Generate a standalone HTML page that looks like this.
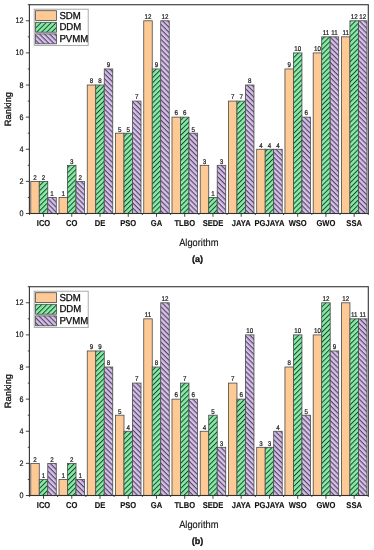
<!DOCTYPE html>
<html><head><meta charset="utf-8"><title>Ranking chart</title>
<style>
html,body{margin:0;padding:0;background:#fff;}
body{width:374px;height:550px;overflow:hidden;}
svg{display:block;will-change:transform;}
text{font-family:"Liberation Sans",sans-serif;text-rendering:geometricPrecision;fill:#111;stroke:#111;stroke-width:0.32px;}
.v{font-size:6.2px;text-anchor:middle;fill:#1a1a1a;stroke:#1a1a1a;stroke-width:0.2px;}
.yt{font-size:7.2px;text-anchor:end;stroke-width:0.15px;}
.xl{font-size:7.6px;font-weight:bold;text-anchor:middle;stroke-width:0.12px;}
.tt{font-size:9.3px;text-anchor:middle;stroke-width:0.12px;}
.sub{font-size:9.0px;font-weight:bold;text-anchor:middle;}
.rk{font-size:9.1px;text-anchor:middle;}
.lg{font-size:9.6px;}
.tk{stroke:#333333;stroke-width:0.9;}
</style></head>
<body><svg width="374" height="550" viewBox="0 0 374 550">
<defs>
<pattern id="hd" patternUnits="userSpaceOnUse" width="3.5674" height="3.5674" patternTransform="rotate(45)">
<line x1="2.3193" y1="0" x2="2.3193" y2="3.5674" stroke="#000000" stroke-width="0.72"/><line x1="-1.2480" y1="0" x2="-1.2480" y2="3.5674" stroke="#000000" stroke-width="0.72"/><line x1="5.8867" y1="0" x2="5.8867" y2="3.5674" stroke="#000000" stroke-width="0.72"/></pattern>
<pattern id="hp" patternUnits="userSpaceOnUse" width="3.5674" height="3.5674" patternTransform="rotate(-45)">
<line x1="0.2475" y1="0" x2="0.2475" y2="3.5674" stroke="#000000" stroke-width="0.72"/><line x1="-3.3199" y1="0" x2="-3.3199" y2="3.5674" stroke="#000000" stroke-width="0.72"/><line x1="3.8148" y1="0" x2="3.8148" y2="3.5674" stroke="#000000" stroke-width="0.72"/></pattern>
</defs>
<rect x="30.77" y="181.38" width="8.5" height="32.12" fill="#fdc995"/>
<rect x="30.77" y="181.38" width="8.5" height="32.12" fill="none" stroke="#4a4a4a" stroke-width="0.8"/>
<text class="v" transform="translate(35.02 179.68) scale(1 1.12)">2</text>
<rect x="39.27" y="181.38" width="8.5" height="32.12" fill="#84eca6"/>
<rect x="39.27" y="181.38" width="8.5" height="32.12" fill="url(#hd)"/>
<rect x="39.27" y="181.38" width="8.5" height="32.12" fill="none" stroke="#4a4a4a" stroke-width="0.8"/>
<text class="v" transform="translate(43.52 179.68) scale(1 1.12)">2</text>
<rect x="47.77" y="197.44" width="8.5" height="16.06" fill="#d8c0ee"/>
<rect x="47.77" y="197.44" width="8.5" height="16.06" fill="url(#hp)"/>
<rect x="47.77" y="197.44" width="8.5" height="16.06" fill="none" stroke="#4a4a4a" stroke-width="0.8"/>
<text class="v" transform="translate(52.02 195.74) scale(1 1.12)">1</text>
<rect x="59.01" y="197.44" width="8.5" height="16.06" fill="#fdc995"/>
<rect x="59.01" y="197.44" width="8.5" height="16.06" fill="none" stroke="#4a4a4a" stroke-width="0.8"/>
<text class="v" transform="translate(63.26 195.74) scale(1 1.12)">1</text>
<rect x="67.51" y="165.32" width="8.5" height="48.18" fill="#84eca6"/>
<rect x="67.51" y="165.32" width="8.5" height="48.18" fill="url(#hd)"/>
<rect x="67.51" y="165.32" width="8.5" height="48.18" fill="none" stroke="#4a4a4a" stroke-width="0.8"/>
<text class="v" transform="translate(71.76 163.62) scale(1 1.12)">3</text>
<rect x="76.01" y="181.38" width="8.5" height="32.12" fill="#d8c0ee"/>
<rect x="76.01" y="181.38" width="8.5" height="32.12" fill="url(#hp)"/>
<rect x="76.01" y="181.38" width="8.5" height="32.12" fill="none" stroke="#4a4a4a" stroke-width="0.8"/>
<text class="v" transform="translate(80.26 179.68) scale(1 1.12)">2</text>
<rect x="87.25" y="85.02" width="8.5" height="128.48" fill="#fdc995"/>
<rect x="87.25" y="85.02" width="8.5" height="128.48" fill="none" stroke="#4a4a4a" stroke-width="0.8"/>
<text class="v" transform="translate(91.5 83.32) scale(1 1.12)">8</text>
<rect x="95.75" y="85.02" width="8.5" height="128.48" fill="#84eca6"/>
<rect x="95.75" y="85.02" width="8.5" height="128.48" fill="url(#hd)"/>
<rect x="95.75" y="85.02" width="8.5" height="128.48" fill="none" stroke="#4a4a4a" stroke-width="0.8"/>
<text class="v" transform="translate(100 83.32) scale(1 1.12)">8</text>
<rect x="104.25" y="68.96" width="8.5" height="144.54" fill="#d8c0ee"/>
<rect x="104.25" y="68.96" width="8.5" height="144.54" fill="url(#hp)"/>
<rect x="104.25" y="68.96" width="8.5" height="144.54" fill="none" stroke="#4a4a4a" stroke-width="0.8"/>
<text class="v" transform="translate(108.5 67.26) scale(1 1.12)">9</text>
<rect x="115.5" y="133.2" width="8.5" height="80.3" fill="#fdc995"/>
<rect x="115.5" y="133.2" width="8.5" height="80.3" fill="none" stroke="#4a4a4a" stroke-width="0.8"/>
<text class="v" transform="translate(119.75 131.5) scale(1 1.12)">5</text>
<rect x="124" y="133.2" width="8.5" height="80.3" fill="#84eca6"/>
<rect x="124" y="133.2" width="8.5" height="80.3" fill="url(#hd)"/>
<rect x="124" y="133.2" width="8.5" height="80.3" fill="none" stroke="#4a4a4a" stroke-width="0.8"/>
<text class="v" transform="translate(128.25 131.5) scale(1 1.12)">5</text>
<rect x="132.5" y="101.08" width="8.5" height="112.42" fill="#d8c0ee"/>
<rect x="132.5" y="101.08" width="8.5" height="112.42" fill="url(#hp)"/>
<rect x="132.5" y="101.08" width="8.5" height="112.42" fill="none" stroke="#4a4a4a" stroke-width="0.8"/>
<text class="v" transform="translate(136.75 99.38) scale(1 1.12)">7</text>
<rect x="143.74" y="20.78" width="8.5" height="192.72" fill="#fdc995"/>
<rect x="143.74" y="20.78" width="8.5" height="192.72" fill="none" stroke="#4a4a4a" stroke-width="0.8"/>
<text class="v" transform="translate(147.99 19.08) scale(1 1.12)">12</text>
<rect x="152.24" y="68.96" width="8.5" height="144.54" fill="#84eca6"/>
<rect x="152.24" y="68.96" width="8.5" height="144.54" fill="url(#hd)"/>
<rect x="152.24" y="68.96" width="8.5" height="144.54" fill="none" stroke="#4a4a4a" stroke-width="0.8"/>
<text class="v" transform="translate(156.49 67.26) scale(1 1.12)">9</text>
<rect x="160.74" y="20.78" width="8.5" height="192.72" fill="#d8c0ee"/>
<rect x="160.74" y="20.78" width="8.5" height="192.72" fill="url(#hp)"/>
<rect x="160.74" y="20.78" width="8.5" height="192.72" fill="none" stroke="#4a4a4a" stroke-width="0.8"/>
<text class="v" transform="translate(164.99 19.08) scale(1 1.12)">12</text>
<rect x="171.98" y="117.14" width="8.5" height="96.36" fill="#fdc995"/>
<rect x="171.98" y="117.14" width="8.5" height="96.36" fill="none" stroke="#4a4a4a" stroke-width="0.8"/>
<text class="v" transform="translate(176.23 115.44) scale(1 1.12)">6</text>
<rect x="180.48" y="117.14" width="8.5" height="96.36" fill="#84eca6"/>
<rect x="180.48" y="117.14" width="8.5" height="96.36" fill="url(#hd)"/>
<rect x="180.48" y="117.14" width="8.5" height="96.36" fill="none" stroke="#4a4a4a" stroke-width="0.8"/>
<text class="v" transform="translate(184.73 115.44) scale(1 1.12)">6</text>
<rect x="188.98" y="133.2" width="8.5" height="80.3" fill="#d8c0ee"/>
<rect x="188.98" y="133.2" width="8.5" height="80.3" fill="url(#hp)"/>
<rect x="188.98" y="133.2" width="8.5" height="80.3" fill="none" stroke="#4a4a4a" stroke-width="0.8"/>
<text class="v" transform="translate(193.23 131.5) scale(1 1.12)">5</text>
<rect x="200.22" y="165.32" width="8.5" height="48.18" fill="#fdc995"/>
<rect x="200.22" y="165.32" width="8.5" height="48.18" fill="none" stroke="#4a4a4a" stroke-width="0.8"/>
<text class="v" transform="translate(204.47 163.62) scale(1 1.12)">3</text>
<rect x="208.72" y="197.44" width="8.5" height="16.06" fill="#84eca6"/>
<rect x="208.72" y="197.44" width="8.5" height="16.06" fill="url(#hd)"/>
<rect x="208.72" y="197.44" width="8.5" height="16.06" fill="none" stroke="#4a4a4a" stroke-width="0.8"/>
<text class="v" transform="translate(212.97 195.74) scale(1 1.12)">1</text>
<rect x="217.22" y="165.32" width="8.5" height="48.18" fill="#d8c0ee"/>
<rect x="217.22" y="165.32" width="8.5" height="48.18" fill="url(#hp)"/>
<rect x="217.22" y="165.32" width="8.5" height="48.18" fill="none" stroke="#4a4a4a" stroke-width="0.8"/>
<text class="v" transform="translate(221.47 163.62) scale(1 1.12)">3</text>
<rect x="228.46" y="101.08" width="8.5" height="112.42" fill="#fdc995"/>
<rect x="228.46" y="101.08" width="8.5" height="112.42" fill="none" stroke="#4a4a4a" stroke-width="0.8"/>
<text class="v" transform="translate(232.71 99.38) scale(1 1.12)">7</text>
<rect x="236.96" y="101.08" width="8.5" height="112.42" fill="#84eca6"/>
<rect x="236.96" y="101.08" width="8.5" height="112.42" fill="url(#hd)"/>
<rect x="236.96" y="101.08" width="8.5" height="112.42" fill="none" stroke="#4a4a4a" stroke-width="0.8"/>
<text class="v" transform="translate(241.21 99.38) scale(1 1.12)">7</text>
<rect x="245.46" y="85.02" width="8.5" height="128.48" fill="#d8c0ee"/>
<rect x="245.46" y="85.02" width="8.5" height="128.48" fill="url(#hp)"/>
<rect x="245.46" y="85.02" width="8.5" height="128.48" fill="none" stroke="#4a4a4a" stroke-width="0.8"/>
<text class="v" transform="translate(249.71 83.32) scale(1 1.12)">8</text>
<rect x="256.7" y="149.26" width="8.5" height="64.24" fill="#fdc995"/>
<rect x="256.7" y="149.26" width="8.5" height="64.24" fill="none" stroke="#4a4a4a" stroke-width="0.8"/>
<text class="v" transform="translate(260.95 147.56) scale(1 1.12)">4</text>
<rect x="265.2" y="149.26" width="8.5" height="64.24" fill="#84eca6"/>
<rect x="265.2" y="149.26" width="8.5" height="64.24" fill="url(#hd)"/>
<rect x="265.2" y="149.26" width="8.5" height="64.24" fill="none" stroke="#4a4a4a" stroke-width="0.8"/>
<text class="v" transform="translate(269.45 147.56) scale(1 1.12)">4</text>
<rect x="273.7" y="149.26" width="8.5" height="64.24" fill="#d8c0ee"/>
<rect x="273.7" y="149.26" width="8.5" height="64.24" fill="url(#hp)"/>
<rect x="273.7" y="149.26" width="8.5" height="64.24" fill="none" stroke="#4a4a4a" stroke-width="0.8"/>
<text class="v" transform="translate(277.95 147.56) scale(1 1.12)">4</text>
<rect x="284.95" y="68.96" width="8.5" height="144.54" fill="#fdc995"/>
<rect x="284.95" y="68.96" width="8.5" height="144.54" fill="none" stroke="#4a4a4a" stroke-width="0.8"/>
<text class="v" transform="translate(289.2 67.26) scale(1 1.12)">9</text>
<rect x="293.45" y="52.9" width="8.5" height="160.6" fill="#84eca6"/>
<rect x="293.45" y="52.9" width="8.5" height="160.6" fill="url(#hd)"/>
<rect x="293.45" y="52.9" width="8.5" height="160.6" fill="none" stroke="#4a4a4a" stroke-width="0.8"/>
<text class="v" transform="translate(297.7 51.2) scale(1 1.12)">10</text>
<rect x="301.95" y="117.14" width="8.5" height="96.36" fill="#d8c0ee"/>
<rect x="301.95" y="117.14" width="8.5" height="96.36" fill="url(#hp)"/>
<rect x="301.95" y="117.14" width="8.5" height="96.36" fill="none" stroke="#4a4a4a" stroke-width="0.8"/>
<text class="v" transform="translate(306.2 115.44) scale(1 1.12)">6</text>
<rect x="313.19" y="52.9" width="8.5" height="160.6" fill="#fdc995"/>
<rect x="313.19" y="52.9" width="8.5" height="160.6" fill="none" stroke="#4a4a4a" stroke-width="0.8"/>
<text class="v" transform="translate(317.44 51.2) scale(1 1.12)">10</text>
<rect x="321.69" y="36.84" width="8.5" height="176.66" fill="#84eca6"/>
<rect x="321.69" y="36.84" width="8.5" height="176.66" fill="url(#hd)"/>
<rect x="321.69" y="36.84" width="8.5" height="176.66" fill="none" stroke="#4a4a4a" stroke-width="0.8"/>
<text class="v" transform="translate(325.94 35.14) scale(1 1.12)">11</text>
<rect x="330.19" y="36.84" width="8.5" height="176.66" fill="#d8c0ee"/>
<rect x="330.19" y="36.84" width="8.5" height="176.66" fill="url(#hp)"/>
<rect x="330.19" y="36.84" width="8.5" height="176.66" fill="none" stroke="#4a4a4a" stroke-width="0.8"/>
<text class="v" transform="translate(334.44 35.14) scale(1 1.12)">11</text>
<rect x="341.43" y="36.84" width="8.5" height="176.66" fill="#fdc995"/>
<rect x="341.43" y="36.84" width="8.5" height="176.66" fill="none" stroke="#4a4a4a" stroke-width="0.8"/>
<text class="v" transform="translate(345.68 35.14) scale(1 1.12)">11</text>
<rect x="349.93" y="20.78" width="8.5" height="192.72" fill="#84eca6"/>
<rect x="349.93" y="20.78" width="8.5" height="192.72" fill="url(#hd)"/>
<rect x="349.93" y="20.78" width="8.5" height="192.72" fill="none" stroke="#4a4a4a" stroke-width="0.8"/>
<text class="v" transform="translate(354.18 19.08) scale(1 1.12)">12</text>
<rect x="358.43" y="20.78" width="8.5" height="192.72" fill="#d8c0ee"/>
<rect x="358.43" y="20.78" width="8.5" height="192.72" fill="url(#hp)"/>
<rect x="358.43" y="20.78" width="8.5" height="192.72" fill="none" stroke="#4a4a4a" stroke-width="0.8"/>
<text class="v" transform="translate(362.68 19.08) scale(1 1.12)">12</text>
<rect x="29.4" y="4.72" width="338.9" height="208.78" fill="none" stroke="#333333" stroke-width="1.1"/>
<line x1="25.9" x2="29.4" y1="213.5" y2="213.5" class="tk"/>
<text class="yt" transform="translate(23.5 216) scale(1 1.12)">0</text>
<line x1="27.8" x2="29.4" y1="197.44" y2="197.44" class="tk"/>
<line x1="25.9" x2="29.4" y1="181.38" y2="181.38" class="tk"/>
<text class="yt" transform="translate(23.5 183.88) scale(1 1.12)">2</text>
<line x1="27.8" x2="29.4" y1="165.32" y2="165.32" class="tk"/>
<line x1="25.9" x2="29.4" y1="149.26" y2="149.26" class="tk"/>
<text class="yt" transform="translate(23.5 151.76) scale(1 1.12)">4</text>
<line x1="27.8" x2="29.4" y1="133.2" y2="133.2" class="tk"/>
<line x1="25.9" x2="29.4" y1="117.14" y2="117.14" class="tk"/>
<text class="yt" transform="translate(23.5 119.64) scale(1 1.12)">6</text>
<line x1="27.8" x2="29.4" y1="101.08" y2="101.08" class="tk"/>
<line x1="25.9" x2="29.4" y1="85.02" y2="85.02" class="tk"/>
<text class="yt" transform="translate(23.5 87.52) scale(1 1.12)">8</text>
<line x1="27.8" x2="29.4" y1="68.96" y2="68.96" class="tk"/>
<line x1="25.9" x2="29.4" y1="52.9" y2="52.9" class="tk"/>
<text class="yt" transform="translate(23.5 55.4) scale(1 1.12)">10</text>
<line x1="27.8" x2="29.4" y1="36.84" y2="36.84" class="tk"/>
<line x1="25.9" x2="29.4" y1="20.78" y2="20.78" class="tk"/>
<text class="yt" transform="translate(23.5 23.28) scale(1 1.12)">12</text>
<line x1="27.8" x2="29.4" y1="4.72" y2="4.72" class="tk"/>
<line x1="43.52" x2="43.52" y1="213.5" y2="216.8" class="tk"/>
<text class="xl" transform="translate(43.52 226.1) scale(1 1.12)">ICO</text>
<line x1="71.76" x2="71.76" y1="213.5" y2="216.8" class="tk"/>
<text class="xl" transform="translate(71.76 226.1) scale(1 1.12)">CO</text>
<line x1="100" x2="100" y1="213.5" y2="216.8" class="tk"/>
<text class="xl" transform="translate(100 226.1) scale(1 1.12)">DE</text>
<line x1="128.25" x2="128.25" y1="213.5" y2="216.8" class="tk"/>
<text class="xl" transform="translate(128.25 226.1) scale(1 1.12)">PSO</text>
<line x1="156.49" x2="156.49" y1="213.5" y2="216.8" class="tk"/>
<text class="xl" transform="translate(156.49 226.1) scale(1 1.12)">GA</text>
<line x1="184.73" x2="184.73" y1="213.5" y2="216.8" class="tk"/>
<text class="xl" transform="translate(184.73 226.1) scale(1 1.12)">TLBO</text>
<line x1="212.97" x2="212.97" y1="213.5" y2="216.8" class="tk"/>
<text class="xl" transform="translate(212.97 226.1) scale(1 1.12)">SEDE</text>
<line x1="241.21" x2="241.21" y1="213.5" y2="216.8" class="tk"/>
<text class="xl" transform="translate(241.21 226.1) scale(1 1.12)">JAYA</text>
<line x1="269.45" x2="269.45" y1="213.5" y2="216.8" class="tk"/>
<text class="xl" transform="translate(269.45 226.1) scale(1 1.12)">PGJAYA</text>
<line x1="297.7" x2="297.7" y1="213.5" y2="216.8" class="tk"/>
<text class="xl" transform="translate(297.7 226.1) scale(1 1.12)">WSO</text>
<line x1="325.94" x2="325.94" y1="213.5" y2="216.8" class="tk"/>
<text class="xl" transform="translate(325.94 226.1) scale(1 1.12)">GWO</text>
<line x1="354.18" x2="354.18" y1="213.5" y2="216.8" class="tk"/>
<text class="xl" transform="translate(354.18 226.1) scale(1 1.12)">SSA</text>
<line x1="29.4" x2="29.4" y1="213.5" y2="215" class="tk"/>
<line x1="57.64" x2="57.64" y1="213.5" y2="215" class="tk"/>
<line x1="85.88" x2="85.88" y1="213.5" y2="215" class="tk"/>
<line x1="114.12" x2="114.12" y1="213.5" y2="215" class="tk"/>
<line x1="142.37" x2="142.37" y1="213.5" y2="215" class="tk"/>
<line x1="170.61" x2="170.61" y1="213.5" y2="215" class="tk"/>
<line x1="198.85" x2="198.85" y1="213.5" y2="215" class="tk"/>
<line x1="227.09" x2="227.09" y1="213.5" y2="215" class="tk"/>
<line x1="255.33" x2="255.33" y1="213.5" y2="215" class="tk"/>
<line x1="283.58" x2="283.58" y1="213.5" y2="215" class="tk"/>
<line x1="311.82" x2="311.82" y1="213.5" y2="215" class="tk"/>
<line x1="340.06" x2="340.06" y1="213.5" y2="215" class="tk"/>
<line x1="368.3" x2="368.3" y1="213.5" y2="215" class="tk"/>
<text class="tt" transform="translate(198.8 245.8) scale(1 1.12)">Algorithm</text>
<text class="sub" transform="translate(197.6 262) scale(1 1)">(a)</text>
<text class="rk" transform="translate(10.7 109.11) rotate(-90) scale(1.03 1)">Ranking</text>
<rect x="34.2" y="9.2" width="54" height="36.2" fill="#fff" stroke="#a0a0a0" stroke-width="0.9"/>
<rect x="35.6" y="10.7" width="20.9" height="9.9" fill="#fdc995"/>
<rect x="35.6" y="10.7" width="20.9" height="9.9" fill="none" stroke="#4a4a4a" stroke-width="0.8"/>
<text class="lg" transform="translate(59.4 18.5) scale(1 1.05)">SDM</text>
<rect x="35.6" y="22.3" width="20.9" height="9.9" fill="#84eca6"/>
<rect x="35.6" y="22.3" width="20.9" height="9.9" fill="url(#hd)"/>
<rect x="35.6" y="22.3" width="20.9" height="9.9" fill="none" stroke="#4a4a4a" stroke-width="0.8"/>
<text class="lg" transform="translate(59.4 30.1) scale(1 1.05)">DDM</text>
<rect x="35.6" y="33.9" width="20.9" height="9.9" fill="#d8c0ee"/>
<rect x="35.6" y="33.9" width="20.9" height="9.9" fill="url(#hp)"/>
<rect x="35.6" y="33.9" width="20.9" height="9.9" fill="none" stroke="#4a4a4a" stroke-width="0.8"/>
<text class="lg" transform="translate(59.4 41.7) scale(1 1.05)">PVMM</text>
<rect x="30.77" y="463.38" width="8.5" height="32.12" fill="#fdc995"/>
<rect x="30.77" y="463.38" width="8.5" height="32.12" fill="none" stroke="#4a4a4a" stroke-width="0.8"/>
<text class="v" transform="translate(35.02 461.68) scale(1 1.12)">2</text>
<rect x="39.27" y="479.44" width="8.5" height="16.06" fill="#84eca6"/>
<rect x="39.27" y="479.44" width="8.5" height="16.06" fill="url(#hd)"/>
<rect x="39.27" y="479.44" width="8.5" height="16.06" fill="none" stroke="#4a4a4a" stroke-width="0.8"/>
<text class="v" transform="translate(43.52 477.74) scale(1 1.12)">1</text>
<rect x="47.77" y="463.38" width="8.5" height="32.12" fill="#d8c0ee"/>
<rect x="47.77" y="463.38" width="8.5" height="32.12" fill="url(#hp)"/>
<rect x="47.77" y="463.38" width="8.5" height="32.12" fill="none" stroke="#4a4a4a" stroke-width="0.8"/>
<text class="v" transform="translate(52.02 461.68) scale(1 1.12)">2</text>
<rect x="59.01" y="479.44" width="8.5" height="16.06" fill="#fdc995"/>
<rect x="59.01" y="479.44" width="8.5" height="16.06" fill="none" stroke="#4a4a4a" stroke-width="0.8"/>
<text class="v" transform="translate(63.26 477.74) scale(1 1.12)">1</text>
<rect x="67.51" y="463.38" width="8.5" height="32.12" fill="#84eca6"/>
<rect x="67.51" y="463.38" width="8.5" height="32.12" fill="url(#hd)"/>
<rect x="67.51" y="463.38" width="8.5" height="32.12" fill="none" stroke="#4a4a4a" stroke-width="0.8"/>
<text class="v" transform="translate(71.76 461.68) scale(1 1.12)">2</text>
<rect x="76.01" y="479.44" width="8.5" height="16.06" fill="#d8c0ee"/>
<rect x="76.01" y="479.44" width="8.5" height="16.06" fill="url(#hp)"/>
<rect x="76.01" y="479.44" width="8.5" height="16.06" fill="none" stroke="#4a4a4a" stroke-width="0.8"/>
<text class="v" transform="translate(80.26 477.74) scale(1 1.12)">1</text>
<rect x="87.25" y="350.96" width="8.5" height="144.54" fill="#fdc995"/>
<rect x="87.25" y="350.96" width="8.5" height="144.54" fill="none" stroke="#4a4a4a" stroke-width="0.8"/>
<text class="v" transform="translate(91.5 349.26) scale(1 1.12)">9</text>
<rect x="95.75" y="350.96" width="8.5" height="144.54" fill="#84eca6"/>
<rect x="95.75" y="350.96" width="8.5" height="144.54" fill="url(#hd)"/>
<rect x="95.75" y="350.96" width="8.5" height="144.54" fill="none" stroke="#4a4a4a" stroke-width="0.8"/>
<text class="v" transform="translate(100 349.26) scale(1 1.12)">9</text>
<rect x="104.25" y="367.02" width="8.5" height="128.48" fill="#d8c0ee"/>
<rect x="104.25" y="367.02" width="8.5" height="128.48" fill="url(#hp)"/>
<rect x="104.25" y="367.02" width="8.5" height="128.48" fill="none" stroke="#4a4a4a" stroke-width="0.8"/>
<text class="v" transform="translate(108.5 365.32) scale(1 1.12)">8</text>
<rect x="115.5" y="415.2" width="8.5" height="80.3" fill="#fdc995"/>
<rect x="115.5" y="415.2" width="8.5" height="80.3" fill="none" stroke="#4a4a4a" stroke-width="0.8"/>
<text class="v" transform="translate(119.75 413.5) scale(1 1.12)">5</text>
<rect x="124" y="431.26" width="8.5" height="64.24" fill="#84eca6"/>
<rect x="124" y="431.26" width="8.5" height="64.24" fill="url(#hd)"/>
<rect x="124" y="431.26" width="8.5" height="64.24" fill="none" stroke="#4a4a4a" stroke-width="0.8"/>
<text class="v" transform="translate(128.25 429.56) scale(1 1.12)">4</text>
<rect x="132.5" y="383.08" width="8.5" height="112.42" fill="#d8c0ee"/>
<rect x="132.5" y="383.08" width="8.5" height="112.42" fill="url(#hp)"/>
<rect x="132.5" y="383.08" width="8.5" height="112.42" fill="none" stroke="#4a4a4a" stroke-width="0.8"/>
<text class="v" transform="translate(136.75 381.38) scale(1 1.12)">7</text>
<rect x="143.74" y="318.84" width="8.5" height="176.66" fill="#fdc995"/>
<rect x="143.74" y="318.84" width="8.5" height="176.66" fill="none" stroke="#4a4a4a" stroke-width="0.8"/>
<text class="v" transform="translate(147.99 317.14) scale(1 1.12)">11</text>
<rect x="152.24" y="367.02" width="8.5" height="128.48" fill="#84eca6"/>
<rect x="152.24" y="367.02" width="8.5" height="128.48" fill="url(#hd)"/>
<rect x="152.24" y="367.02" width="8.5" height="128.48" fill="none" stroke="#4a4a4a" stroke-width="0.8"/>
<text class="v" transform="translate(156.49 365.32) scale(1 1.12)">8</text>
<rect x="160.74" y="302.78" width="8.5" height="192.72" fill="#d8c0ee"/>
<rect x="160.74" y="302.78" width="8.5" height="192.72" fill="url(#hp)"/>
<rect x="160.74" y="302.78" width="8.5" height="192.72" fill="none" stroke="#4a4a4a" stroke-width="0.8"/>
<text class="v" transform="translate(164.99 301.08) scale(1 1.12)">12</text>
<rect x="171.98" y="399.14" width="8.5" height="96.36" fill="#fdc995"/>
<rect x="171.98" y="399.14" width="8.5" height="96.36" fill="none" stroke="#4a4a4a" stroke-width="0.8"/>
<text class="v" transform="translate(176.23 397.44) scale(1 1.12)">6</text>
<rect x="180.48" y="383.08" width="8.5" height="112.42" fill="#84eca6"/>
<rect x="180.48" y="383.08" width="8.5" height="112.42" fill="url(#hd)"/>
<rect x="180.48" y="383.08" width="8.5" height="112.42" fill="none" stroke="#4a4a4a" stroke-width="0.8"/>
<text class="v" transform="translate(184.73 381.38) scale(1 1.12)">7</text>
<rect x="188.98" y="399.14" width="8.5" height="96.36" fill="#d8c0ee"/>
<rect x="188.98" y="399.14" width="8.5" height="96.36" fill="url(#hp)"/>
<rect x="188.98" y="399.14" width="8.5" height="96.36" fill="none" stroke="#4a4a4a" stroke-width="0.8"/>
<text class="v" transform="translate(193.23 397.44) scale(1 1.12)">6</text>
<rect x="200.22" y="431.26" width="8.5" height="64.24" fill="#fdc995"/>
<rect x="200.22" y="431.26" width="8.5" height="64.24" fill="none" stroke="#4a4a4a" stroke-width="0.8"/>
<text class="v" transform="translate(204.47 429.56) scale(1 1.12)">4</text>
<rect x="208.72" y="415.2" width="8.5" height="80.3" fill="#84eca6"/>
<rect x="208.72" y="415.2" width="8.5" height="80.3" fill="url(#hd)"/>
<rect x="208.72" y="415.2" width="8.5" height="80.3" fill="none" stroke="#4a4a4a" stroke-width="0.8"/>
<text class="v" transform="translate(212.97 413.5) scale(1 1.12)">5</text>
<rect x="217.22" y="447.32" width="8.5" height="48.18" fill="#d8c0ee"/>
<rect x="217.22" y="447.32" width="8.5" height="48.18" fill="url(#hp)"/>
<rect x="217.22" y="447.32" width="8.5" height="48.18" fill="none" stroke="#4a4a4a" stroke-width="0.8"/>
<text class="v" transform="translate(221.47 445.62) scale(1 1.12)">3</text>
<rect x="228.46" y="383.08" width="8.5" height="112.42" fill="#fdc995"/>
<rect x="228.46" y="383.08" width="8.5" height="112.42" fill="none" stroke="#4a4a4a" stroke-width="0.8"/>
<text class="v" transform="translate(232.71 381.38) scale(1 1.12)">7</text>
<rect x="236.96" y="399.14" width="8.5" height="96.36" fill="#84eca6"/>
<rect x="236.96" y="399.14" width="8.5" height="96.36" fill="url(#hd)"/>
<rect x="236.96" y="399.14" width="8.5" height="96.36" fill="none" stroke="#4a4a4a" stroke-width="0.8"/>
<text class="v" transform="translate(241.21 397.44) scale(1 1.12)">6</text>
<rect x="245.46" y="334.9" width="8.5" height="160.6" fill="#d8c0ee"/>
<rect x="245.46" y="334.9" width="8.5" height="160.6" fill="url(#hp)"/>
<rect x="245.46" y="334.9" width="8.5" height="160.6" fill="none" stroke="#4a4a4a" stroke-width="0.8"/>
<text class="v" transform="translate(249.71 333.2) scale(1 1.12)">10</text>
<rect x="256.7" y="447.32" width="8.5" height="48.18" fill="#fdc995"/>
<rect x="256.7" y="447.32" width="8.5" height="48.18" fill="none" stroke="#4a4a4a" stroke-width="0.8"/>
<text class="v" transform="translate(260.95 445.62) scale(1 1.12)">3</text>
<rect x="265.2" y="447.32" width="8.5" height="48.18" fill="#84eca6"/>
<rect x="265.2" y="447.32" width="8.5" height="48.18" fill="url(#hd)"/>
<rect x="265.2" y="447.32" width="8.5" height="48.18" fill="none" stroke="#4a4a4a" stroke-width="0.8"/>
<text class="v" transform="translate(269.45 445.62) scale(1 1.12)">3</text>
<rect x="273.7" y="431.26" width="8.5" height="64.24" fill="#d8c0ee"/>
<rect x="273.7" y="431.26" width="8.5" height="64.24" fill="url(#hp)"/>
<rect x="273.7" y="431.26" width="8.5" height="64.24" fill="none" stroke="#4a4a4a" stroke-width="0.8"/>
<text class="v" transform="translate(277.95 429.56) scale(1 1.12)">4</text>
<rect x="284.95" y="367.02" width="8.5" height="128.48" fill="#fdc995"/>
<rect x="284.95" y="367.02" width="8.5" height="128.48" fill="none" stroke="#4a4a4a" stroke-width="0.8"/>
<text class="v" transform="translate(289.2 365.32) scale(1 1.12)">8</text>
<rect x="293.45" y="334.9" width="8.5" height="160.6" fill="#84eca6"/>
<rect x="293.45" y="334.9" width="8.5" height="160.6" fill="url(#hd)"/>
<rect x="293.45" y="334.9" width="8.5" height="160.6" fill="none" stroke="#4a4a4a" stroke-width="0.8"/>
<text class="v" transform="translate(297.7 333.2) scale(1 1.12)">10</text>
<rect x="301.95" y="415.2" width="8.5" height="80.3" fill="#d8c0ee"/>
<rect x="301.95" y="415.2" width="8.5" height="80.3" fill="url(#hp)"/>
<rect x="301.95" y="415.2" width="8.5" height="80.3" fill="none" stroke="#4a4a4a" stroke-width="0.8"/>
<text class="v" transform="translate(306.2 413.5) scale(1 1.12)">5</text>
<rect x="313.19" y="334.9" width="8.5" height="160.6" fill="#fdc995"/>
<rect x="313.19" y="334.9" width="8.5" height="160.6" fill="none" stroke="#4a4a4a" stroke-width="0.8"/>
<text class="v" transform="translate(317.44 333.2) scale(1 1.12)">10</text>
<rect x="321.69" y="302.78" width="8.5" height="192.72" fill="#84eca6"/>
<rect x="321.69" y="302.78" width="8.5" height="192.72" fill="url(#hd)"/>
<rect x="321.69" y="302.78" width="8.5" height="192.72" fill="none" stroke="#4a4a4a" stroke-width="0.8"/>
<text class="v" transform="translate(325.94 301.08) scale(1 1.12)">12</text>
<rect x="330.19" y="350.96" width="8.5" height="144.54" fill="#d8c0ee"/>
<rect x="330.19" y="350.96" width="8.5" height="144.54" fill="url(#hp)"/>
<rect x="330.19" y="350.96" width="8.5" height="144.54" fill="none" stroke="#4a4a4a" stroke-width="0.8"/>
<text class="v" transform="translate(334.44 349.26) scale(1 1.12)">9</text>
<rect x="341.43" y="302.78" width="8.5" height="192.72" fill="#fdc995"/>
<rect x="341.43" y="302.78" width="8.5" height="192.72" fill="none" stroke="#4a4a4a" stroke-width="0.8"/>
<text class="v" transform="translate(345.68 301.08) scale(1 1.12)">12</text>
<rect x="349.93" y="318.84" width="8.5" height="176.66" fill="#84eca6"/>
<rect x="349.93" y="318.84" width="8.5" height="176.66" fill="url(#hd)"/>
<rect x="349.93" y="318.84" width="8.5" height="176.66" fill="none" stroke="#4a4a4a" stroke-width="0.8"/>
<text class="v" transform="translate(354.18 317.14) scale(1 1.12)">11</text>
<rect x="358.43" y="318.84" width="8.5" height="176.66" fill="#d8c0ee"/>
<rect x="358.43" y="318.84" width="8.5" height="176.66" fill="url(#hp)"/>
<rect x="358.43" y="318.84" width="8.5" height="176.66" fill="none" stroke="#4a4a4a" stroke-width="0.8"/>
<text class="v" transform="translate(362.68 317.14) scale(1 1.12)">11</text>
<rect x="29.4" y="286.72" width="338.9" height="208.78" fill="none" stroke="#333333" stroke-width="1.1"/>
<line x1="25.9" x2="29.4" y1="495.5" y2="495.5" class="tk"/>
<text class="yt" transform="translate(23.5 498) scale(1 1.12)">0</text>
<line x1="27.8" x2="29.4" y1="479.44" y2="479.44" class="tk"/>
<line x1="25.9" x2="29.4" y1="463.38" y2="463.38" class="tk"/>
<text class="yt" transform="translate(23.5 465.88) scale(1 1.12)">2</text>
<line x1="27.8" x2="29.4" y1="447.32" y2="447.32" class="tk"/>
<line x1="25.9" x2="29.4" y1="431.26" y2="431.26" class="tk"/>
<text class="yt" transform="translate(23.5 433.76) scale(1 1.12)">4</text>
<line x1="27.8" x2="29.4" y1="415.2" y2="415.2" class="tk"/>
<line x1="25.9" x2="29.4" y1="399.14" y2="399.14" class="tk"/>
<text class="yt" transform="translate(23.5 401.64) scale(1 1.12)">6</text>
<line x1="27.8" x2="29.4" y1="383.08" y2="383.08" class="tk"/>
<line x1="25.9" x2="29.4" y1="367.02" y2="367.02" class="tk"/>
<text class="yt" transform="translate(23.5 369.52) scale(1 1.12)">8</text>
<line x1="27.8" x2="29.4" y1="350.96" y2="350.96" class="tk"/>
<line x1="25.9" x2="29.4" y1="334.9" y2="334.9" class="tk"/>
<text class="yt" transform="translate(23.5 337.4) scale(1 1.12)">10</text>
<line x1="27.8" x2="29.4" y1="318.84" y2="318.84" class="tk"/>
<line x1="25.9" x2="29.4" y1="302.78" y2="302.78" class="tk"/>
<text class="yt" transform="translate(23.5 305.28) scale(1 1.12)">12</text>
<line x1="27.8" x2="29.4" y1="286.72" y2="286.72" class="tk"/>
<line x1="43.52" x2="43.52" y1="495.5" y2="498.8" class="tk"/>
<text class="xl" transform="translate(43.52 508.1) scale(1 1.12)">ICO</text>
<line x1="71.76" x2="71.76" y1="495.5" y2="498.8" class="tk"/>
<text class="xl" transform="translate(71.76 508.1) scale(1 1.12)">CO</text>
<line x1="100" x2="100" y1="495.5" y2="498.8" class="tk"/>
<text class="xl" transform="translate(100 508.1) scale(1 1.12)">DE</text>
<line x1="128.25" x2="128.25" y1="495.5" y2="498.8" class="tk"/>
<text class="xl" transform="translate(128.25 508.1) scale(1 1.12)">PSO</text>
<line x1="156.49" x2="156.49" y1="495.5" y2="498.8" class="tk"/>
<text class="xl" transform="translate(156.49 508.1) scale(1 1.12)">GA</text>
<line x1="184.73" x2="184.73" y1="495.5" y2="498.8" class="tk"/>
<text class="xl" transform="translate(184.73 508.1) scale(1 1.12)">TLBO</text>
<line x1="212.97" x2="212.97" y1="495.5" y2="498.8" class="tk"/>
<text class="xl" transform="translate(212.97 508.1) scale(1 1.12)">SEDE</text>
<line x1="241.21" x2="241.21" y1="495.5" y2="498.8" class="tk"/>
<text class="xl" transform="translate(241.21 508.1) scale(1 1.12)">JAYA</text>
<line x1="269.45" x2="269.45" y1="495.5" y2="498.8" class="tk"/>
<text class="xl" transform="translate(269.45 508.1) scale(1 1.12)">PGJAYA</text>
<line x1="297.7" x2="297.7" y1="495.5" y2="498.8" class="tk"/>
<text class="xl" transform="translate(297.7 508.1) scale(1 1.12)">WSO</text>
<line x1="325.94" x2="325.94" y1="495.5" y2="498.8" class="tk"/>
<text class="xl" transform="translate(325.94 508.1) scale(1 1.12)">GWO</text>
<line x1="354.18" x2="354.18" y1="495.5" y2="498.8" class="tk"/>
<text class="xl" transform="translate(354.18 508.1) scale(1 1.12)">SSA</text>
<line x1="29.4" x2="29.4" y1="495.5" y2="497" class="tk"/>
<line x1="57.64" x2="57.64" y1="495.5" y2="497" class="tk"/>
<line x1="85.88" x2="85.88" y1="495.5" y2="497" class="tk"/>
<line x1="114.12" x2="114.12" y1="495.5" y2="497" class="tk"/>
<line x1="142.37" x2="142.37" y1="495.5" y2="497" class="tk"/>
<line x1="170.61" x2="170.61" y1="495.5" y2="497" class="tk"/>
<line x1="198.85" x2="198.85" y1="495.5" y2="497" class="tk"/>
<line x1="227.09" x2="227.09" y1="495.5" y2="497" class="tk"/>
<line x1="255.33" x2="255.33" y1="495.5" y2="497" class="tk"/>
<line x1="283.58" x2="283.58" y1="495.5" y2="497" class="tk"/>
<line x1="311.82" x2="311.82" y1="495.5" y2="497" class="tk"/>
<line x1="340.06" x2="340.06" y1="495.5" y2="497" class="tk"/>
<line x1="368.3" x2="368.3" y1="495.5" y2="497" class="tk"/>
<text class="tt" transform="translate(198.8 527.8) scale(1 1.12)">Algorithm</text>
<text class="sub" transform="translate(197.6 544) scale(1 1)">(b)</text>
<text class="rk" transform="translate(10.7 391.11) rotate(-90) scale(1.03 1)">Ranking</text>
<rect x="34.2" y="291.2" width="54" height="36.2" fill="#fff" stroke="#a0a0a0" stroke-width="0.9"/>
<rect x="35.6" y="292.7" width="20.9" height="9.9" fill="#fdc995"/>
<rect x="35.6" y="292.7" width="20.9" height="9.9" fill="none" stroke="#4a4a4a" stroke-width="0.8"/>
<text class="lg" transform="translate(59.4 300.5) scale(1 1.05)">SDM</text>
<rect x="35.6" y="304.3" width="20.9" height="9.9" fill="#84eca6"/>
<rect x="35.6" y="304.3" width="20.9" height="9.9" fill="url(#hd)"/>
<rect x="35.6" y="304.3" width="20.9" height="9.9" fill="none" stroke="#4a4a4a" stroke-width="0.8"/>
<text class="lg" transform="translate(59.4 312.1) scale(1 1.05)">DDM</text>
<rect x="35.6" y="315.9" width="20.9" height="9.9" fill="#d8c0ee"/>
<rect x="35.6" y="315.9" width="20.9" height="9.9" fill="url(#hp)"/>
<rect x="35.6" y="315.9" width="20.9" height="9.9" fill="none" stroke="#4a4a4a" stroke-width="0.8"/>
<text class="lg" transform="translate(59.4 323.7) scale(1 1.05)">PVMM</text>
</svg></body></html>
